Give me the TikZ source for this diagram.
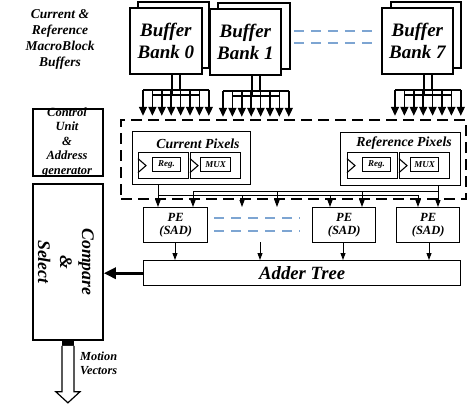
\documentclass[tikz,border=0pt]{standalone}
\usepackage{fontspec}
\setmainfont{Liberation Serif}
\usetikzlibrary{arrows.meta,calc}
\definecolor{dblue}{RGB}{125,165,210}
\begin{document}
\begin{tikzpicture}[x=1pt,y=-1pt,
  bx/.style={draw, fill=white, inner sep=0pt, anchor=north west},
  bank/.style={bx, line width=1.8pt, font=\fontsize{19}{22}\selectfont\bfseries\itshape, align=center},
  pix/.style={bx, line width=1.1pt},
  sub/.style={bx, line width=1.2pt},
  subin/.style={bx, line width=1.1pt, font=\fontsize{9}{10}\selectfont\bfseries\itshape},
  pebox/.style={bx, line width=1.4pt, font=\fontsize{12.5}{13}\selectfont\bfseries\itshape, align=center},
  side/.style={bx, line width=1.8pt},
  txt/.style={inner sep=0pt, align=center, font=\bfseries\itshape},
  bus/.style={line width=1.5pt},
  fanarr/.style={line width=1.6pt, -{Triangle[width=8pt,length=9pt]}},
  pl/.style={line width=0.9pt},
  pearr/.style={line width=0.9pt, -{Triangle[width=5pt,length=7pt]}},
  blued/.style={draw=dblue, line width=1.1pt, dash pattern=on 10pt off 7pt},
  dbox/.style={bx, fill=none, line width=2.2pt, dash pattern=on 11pt off 6pt}
]
\useasboundingbox (0,0) rectangle (474,405);

% title
\node[txt, font=\fontsize{13.5}{16}\selectfont\bfseries\itshape] (title) at (60,39) {Current \&\\Reference\\MacroBlock\\Buffers};

% buffer banks
\node[bank, minimum width=71, minimum height=66] (b0k) at (137,1) {};
\node[bank, minimum width=72, minimum height=66] (b0) at (129,7) {Buffer\\Bank 0};
\node[bank, minimum width=72, minimum height=66] (b1k) at (217,2) {};
\node[bank, minimum width=71, minimum height=66] (b1) at (209,8) {Buffer\\Bank 1};
\node[bank, minimum width=70, minimum height=66] (b7k) at (390,1) {};
\node[bank, minimum width=71, minimum height=66] (b7) at (381,7) {Buffer\\Bank 7};

\coordinate (d1) at (0,31);
\coordinate (d2) at (0,43);
\draw[blued] ($(b1k.east |- d1)+(3,0)$) -- ($(b7.west |- d1)+(-3,0)$);
\draw[blued] ($(b1k.east |- d2)+(3,0)$) -- ($(b7.west |- d2)+(-3,0)$);

% fan-out buses
\foreach \b in {b0,b1,b7}{
  \draw[bus] ($(\b.south west)+(43,0)$) -- ++(0,20);
  \draw[bus] ($(\b.south west)+(51,0)$) -- ++(0,15);
  \draw[bus] ($(\b.south west)+(14,15)$) -- ++(65.8,0);
  \draw[bus] ($(\b.south west)+(23.4,20)$) -- ++(47,0);
  \foreach \i in {0,...,7}{
    \draw[fanarr] ($(\b.south west)+(14+9.4*\i,15)$) -- ++(0,26);
  }
}

% dashed memory box
\node[dbox, minimum width=345, minimum height=79] (mem) at (120,119) {};

% current pixels
\node[pix, minimum width=118, minimum height=53] (cp) at (132,131) {};
\node[txt, font=\fontsize{13.8}{15}\selectfont\bfseries\itshape] (cpt) at (198,144) {Current Pixels};
\node[sub, minimum width=50, minimum height=26] (cpreg) at (138,152) {};
\node[sub, minimum width=50, minimum height=26] (cpmux) at (190,152) {};
\node[subin, minimum width=28, minimum height=14] (cpregi) at (152,157) {Reg.};
\node[subin, minimum width=30, minimum height=14] (cpmuxi) at (200,157) {MUX};
\draw[line width=1.1pt] ($(cpreg.west)+(0,-7)$) -- ++(8,7) -- ++(-8,7);
\draw[line width=1.1pt] ($(cpmux.west)+(0,-7)$) -- ++(8,7) -- ++(-8,7);

% reference pixels
\node[pix, minimum width=120, minimum height=53] (rp) at (340,132) {};
\node[txt, font=\fontsize{13.8}{15}\selectfont\bfseries\itshape] (rpt) at (404,143) {Reference Pixels};
\node[sub, minimum width=50, minimum height=26] (rpreg) at (347,152) {};
\node[sub, minimum width=50, minimum height=26] (rpmux) at (399,152) {};
\node[subin, minimum width=28, minimum height=14] (rpregi) at (362,157) {Reg.};
\node[subin, minimum width=28, minimum height=14] (rpmuxi) at (410,157) {MUX};
\draw[line width=1.1pt] ($(rpreg.west)+(0,-7)$) -- ++(8,7) -- ++(-8,7);
\draw[line width=1.1pt] ($(rpmux.west)+(0,-7)$) -- ++(8,7) -- ++(-8,7);

% PEs
\node[pebox, minimum width=64, minimum height=35] (pe1) at (143,207) {PE\\(SAD)};
\node[pebox, minimum width=63, minimum height=35] (pe2) at (312,207) {PE\\(SAD)};
\node[pebox, minimum width=63, minimum height=35] (pe3) at (396,207) {PE\\(SAD)};
\coordinate (d3) at (0,218);
\coordinate (d4) at (0,231);
\draw[blued] ($(pe1.east |- d3)+(6,0)$) -- ($(pe2.west |- d3)+(-12,0)$);
\draw[blued] ($(pe1.east |- d4)+(6,0)$) -- ($(pe2.west |- d4)+(-12,0)$);

% PE input buses
\foreach \n/\x in {xa/158,xb/193,xc/242,xd/277,xe/330,xf/362,xg/418,xh/438}{
  \coordinate (\n) at (\x,0);
}
\coordinate (cb) at (0,195);
\coordinate (rb) at (0,191);
\coordinate (tp) at (0,207);
\draw[pearr] (cp.south -| xa) -- (pe1.north -| xa);
\draw[pl] (xa |- cb) -- (xg |- cb);
\draw[pearr] (xc |- cb) -- (xc |- tp);
\draw[pearr] (xe |- cb) -- (pe2.north -| xe);
\draw[pearr] (xg |- cb) -- (pe3.north -| xg);
\draw[pearr] (rp.south -| xh) -- (pe3.north -| xh);
\draw[pl] (xh |- rb) -- (xb |- rb);
\draw[pearr] (xb |- rb) -- (pe1.north -| xb);
\draw[pearr] (xd |- rb) -- (xd |- tp);
\draw[pearr] (xf |- rb) -- (pe2.north -| xf);

% adder tree
\node[pebox, minimum width=317, minimum height=25, font=\fontsize{18.7}{20}\selectfont\bfseries\itshape] (add) at (143,260) {Adder Tree};
\foreach \n/\x in {ya/175,yb/260,yc/343,yd/429}{
  \coordinate (\n) at (\x,0);
}
\coordinate (pb) at (0,242);
\draw[pearr] (pe1.south -| ya) -- (add.north -| ya);
\draw[pearr] (yb |- pb) -- (add.north -| yb);
\draw[pearr] (pe2.south -| yc) -- (add.north -| yc);
\draw[pearr] (pe3.south -| yd) -- (add.north -| yd);

% control unit
\node[side, minimum width=70, minimum height=67] (cu) at (32,108) {};
\node[txt, font=\fontsize{12.5}{14.5}\selectfont\bfseries\itshape] (cut) at (67,142) {Control\\Unit\\\&\\Address\\generator};

% compare & select
\node[side, minimum width=70, minimum height=156] (cs) at (32,183) {};
\node[txt, rotate=-90, font=\fontsize{17.7}{22}\selectfont\bfseries\itshape] (cst) at ($(cs.center)+(-2,0)$) {Compare\\\&\\Select};

\draw[line width=3pt, -{Triangle[width=11pt,length=12pt]}] (add.west) -- (cs.east |- add.west);

% motion vectors
\fill ($(cs.south)+(-6,0)$) rectangle ($(cs.south)+(6,5)$);
\draw[line width=1.2pt, fill=white] ($(cs.south)+(-6,5)$) -- ++(0,46) -- ++(-6,0) -- ++(12,11) -- ++(12,-11) -- ++(-6,0) -- ++(0,-46);
\node[txt, anchor=west, align=left, font=\fontsize{12.3}{14}\selectfont\bfseries\itshape] (mv) at (80,363) {Motion\\Vectors};
\end{tikzpicture}
\end{document}
